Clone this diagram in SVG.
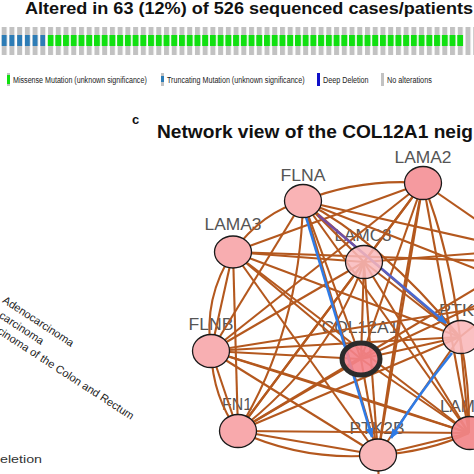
<svg xmlns="http://www.w3.org/2000/svg" width="474" height="474" viewBox="0 0 474 474">
<style>
.t{font-family:"Liberation Sans",Arial,sans-serif}
.b{font-weight:bold;fill:#111}
.lg{font-size:9.5px;fill:#222}
.rot{font-size:11px;fill:#222}
.lab{font-size:16px;fill:#555}
.e{fill:none;stroke:#b4581e;stroke-width:2.1}
.n{stroke:#1a1a1a;stroke-width:1.3}
</style>
<defs>
<pattern id="pg" x="1.7" y="0" width="7.73" height="474" patternUnits="userSpaceOnUse"><rect x="0" y="0" width="5" height="474" fill="#c2c2c2"/></pattern>
<pattern id="pgr" x="1.2" y="0" width="7.73" height="474" patternUnits="userSpaceOnUse"><rect x="0" y="0" width="6" height="474" fill="#10e010"/></pattern>
<pattern id="pbl" x="1.7" y="0" width="7.73" height="474" patternUnits="userSpaceOnUse"><rect x="0" y="0" width="5" height="474" fill="#2c7cb6"/></pattern>
<marker id="ab" markerWidth="10" markerHeight="8" refX="9" refY="4" orient="auto" markerUnits="userSpaceOnUse"><path d="M0,0 L10,4 L0,8 Z" fill="#2f7be6"/></marker>
<linearGradient id="pur" gradientUnits="userSpaceOnUse" x1="318" y1="215" x2="446" y2="323"><stop offset="0" stop-color="#7a4896"/><stop offset="0.5" stop-color="#5a5cc0"/><stop offset="1" stop-color="#3a74e0"/></linearGradient>
</defs>

<!-- oncoprint -->
<g id="title"><text class="t b" x="25" y="13.5" font-size="17" textLength="448" lengthAdjust="spacingAndGlyphs">Altered in 63 (12%) of 526 sequenced cases/patients</text></g>
<g id="oncoprint">
<rect x="0" y="27" width="474" height="28" fill="url(#pg)"/>
<rect x="0" y="35" width="45.4" height="11" fill="url(#pbl)"/>
<rect x="47.5" y="35" width="415.8" height="11" fill="url(#pgr)"/>
</g>
<g id="legend">
<rect x="7" y="73" width="3" height="13" fill="#c2c2c2"/><rect x="7" y="75" width="3" height="9" fill="#10e010"/>
<text class="t lg" transform="translate(13,83) scale(0.76,1)" textLength="176" lengthAdjust="spacingAndGlyphs">Missense Mutation (unknown significance)</text>
<rect x="161" y="73" width="3" height="13" fill="#c2c2c2"/><rect x="161" y="76" width="3" height="6" fill="#2c7cb6"/>
<text class="t lg" transform="translate(167,83) scale(0.76,1)" textLength="181" lengthAdjust="spacingAndGlyphs">Truncating Mutation (unknown significance)</text>
<rect x="317" y="73" width="3" height="13" fill="#1010c8"/>
<text class="t lg" transform="translate(323,83) scale(0.76,1)" textLength="60" lengthAdjust="spacingAndGlyphs">Deep Deletion</text>
<rect x="381" y="73" width="3" height="13" fill="#c2c2c2"/>
<text class="t lg" transform="translate(387,83) scale(0.76,1)" textLength="59" lengthAdjust="spacingAndGlyphs">No alterations</text>
</g>
<g id="clinical">
<text class="t rot" text-anchor="end" transform="translate(71,347) rotate(33)">Adenocarcinoma</text>
<text class="t rot" text-anchor="end" transform="translate(41,345) rotate(33)">carcinoma</text>
<text class="t rot" text-anchor="end" transform="translate(131,420) rotate(33)">cinoma of the Colon and Rectum</text>
<text class="t" x="0" y="463" font-size="10" fill="#333" textLength="42" lengthAdjust="spacingAndGlyphs">eletion</text>
</g>

<!-- network -->
<g id="panel-c">
<text class="t b" x="132" y="124" font-size="13">c</text>
<text class="t b" x="157" y="138" font-size="18" textLength="316" lengthAdjust="spacingAndGlyphs">Network view of the COL12A1 neig</text>
</g>

<g id="labels" class="t lab" text-anchor="middle">
<text x="303" y="181" textLength="45" lengthAdjust="spacingAndGlyphs">FLNA</text>
<text x="423" y="163" textLength="57" lengthAdjust="spacingAndGlyphs">LAMA2</text>
<text x="233" y="230" textLength="57" lengthAdjust="spacingAndGlyphs">LAMA3</text>
<text x="363" y="241" textLength="57" lengthAdjust="spacingAndGlyphs">LAMC3</text>
<text x="211" y="330" textLength="45" lengthAdjust="spacingAndGlyphs">FLNB</text>
<text x="360" y="333" textLength="77" lengthAdjust="spacingAndGlyphs">COL12A1</text>
<text x="237" y="410" textLength="30" lengthAdjust="spacingAndGlyphs">FN1</text>
<text x="377" y="434" textLength="55" lengthAdjust="spacingAndGlyphs">PTK2B</text>
<text x="439" y="316" text-anchor="start" textLength="35" lengthAdjust="spacingAndGlyphs">PTK</text>
<text x="440" y="412" text-anchor="start" textLength="35" lengthAdjust="spacingAndGlyphs">LAM</text>
</g>

<g id="connectors">
<!-- perimeter curves -->
<path class="e" d="M303,201 Q360,178 423,183"/>
<path class="e" d="M303,201 Q262,212 233,252"/>
<path class="e" d="M233,252 Q203,298 211,351"/>
<path class="e" d="M211,351 Q213,398 238,431"/>
<path class="e" d="M238,431 Q305,462 378,455"/>
<path class="e" d="M378,455 Q428,452 469,433"/>
<path class="e" d="M460,337 Q470,385 469,433"/>
<path class="e" d="M423,183 Q450,250 460,337"/>
<!-- FLNA -->
<path class="e" d="M303,201 L364,262"/>
<path class="e" d="M303,201 L211,351"/>
<path class="e" d="M303,201 Q300,330 238,431"/>
<path class="e" d="M303,201 L361,359"/>
<path class="e" d="M303,201 L378,455"/>
<path class="e" d="M303,201 L460,337"/>
<path class="e" d="M303,201 Q380,240 460,337"/>
<path class="e" d="M303,201 L469,433"/>
<path class="e" d="M303,201 L520,250"/>
<path class="e" d="M303,201 L530,290"/>
<!-- LAMA2 -->
<path class="e" d="M423,183 L233,252"/>
<path class="e" d="M423,183 L364,262"/>
<path class="e" d="M423,183 L211,351"/>
<path class="e" d="M423,183 L361,359"/>
<path class="e" d="M423,183 L238,431"/>
<path class="e" d="M423,183 L378,455"/>
<path class="e" d="M423,183 L469,433"/>
<path class="e" d="M423,183 L520,250"/>
<path class="e" d="M423,183 Q400,300 378,455"/>
<!-- LAMA3 -->
<path class="e" d="M233,252 L364,262"/>
<path class="e" d="M233,252 L238,431"/>
<path class="e" d="M233,252 L361,359"/>
<path class="e" d="M233,252 L378,455"/>
<path class="e" d="M233,252 L460,337"/>
<path class="e" d="M233,252 L469,433"/>
<path class="e" d="M233,252 L520,262"/>
<path class="e" d="M233,252 L211,351"/>
<!-- LAMC3 -->
<path class="e" d="M364,262 L211,351"/>
<path class="e" d="M364,262 L238,431"/>
<path class="e" d="M364,262 L361,359"/>
<path class="e" d="M364,262 L378,455"/>
<path class="e" d="M364,262 L460,337"/>
<path class="e" d="M364,262 L469,433"/>
<path class="e" d="M364,262 L520,250"/>
<path class="e" d="M364,262 Q330,360 238,431"/>
<!-- FLNB -->
<path class="e" d="M211,351 L238,431"/>
<path class="e" d="M211,351 L361,359"/>
<path class="e" d="M211,351 L378,455"/>
<path class="e" d="M211,351 L460,337"/>
<path class="e" d="M211,351 L469,433"/>
<path class="e" d="M211,351 Q340,390 469,433"/>
<path class="e" d="M211,351 L530,300"/>
<!-- COL12A1 -->
<path class="e" d="M361,359 L238,431"/>
<path class="e" d="M361,359 L378,455"/>
<path class="e" d="M361,359 L460,337"/>
<path class="e" d="M361,359 L469,433"/>
<path class="e" d="M361,359 L530,280"/>
<!-- FN1 -->
<path class="e" d="M238,431 L378,455"/>
<path class="e" d="M238,431 L460,337"/>
<path class="e" d="M238,431 L469,433"/>
<path class="e" d="M238,431 L520,262"/>
<!-- PTK2B / PTK2 -->
<path class="e" d="M378,455 L460,337"/>
<path class="e" d="M378,455 L469,433"/>
<path class="e" d="M378,455 L380,530"/>
<path class="e" d="M460,337 L469,433"/>
<path class="e" d="M460,337 L530,280"/>
<!-- directed -->
<path d="M306,217 L372,437" fill="none" stroke="#2f7be6" stroke-width="2.6" marker-end="url(#ab)"/>
<path d="M452,353 Q418,395 391,438" fill="none" stroke="#2f7be6" stroke-width="2.6" marker-end="url(#ab)"/>
<path d="M318,215 L446,323" fill="none" stroke="url(#pur)" stroke-width="2.6" marker-end="url(#ab)"/>
</g>

<g id="n-FLNA"><ellipse class="n" cx="303" cy="201" rx="18.5" ry="16.5" fill="#f9b3b5"/></g>
<g id="n-LAMA2"><ellipse class="n" cx="423" cy="183" rx="18.5" ry="16.5" fill="#f59a9f"/></g>
<g id="n-LAMA3"><ellipse class="n" cx="233" cy="252" rx="18.5" ry="16" fill="#f8adb0"/></g>
<g id="n-LAMC3"><ellipse class="n" cx="364" cy="262" rx="18.5" ry="16.5" fill="#f9b9bb" fill-opacity="0.85"/></g>
<g id="n-FLNB"><ellipse class="n" cx="211" cy="351" rx="18.5" ry="16.5" fill="#f8afb2"/></g>
<g id="n-COL12A1"><ellipse cx="361" cy="359" rx="19" ry="16" fill="#f4838b" fill-opacity="0.9" stroke="#2b2b2b" stroke-width="5"/></g>
<g id="n-FN1"><ellipse class="n" cx="238" cy="431" rx="18.5" ry="16.5" fill="#f8a9ac"/></g>
<g id="n-PTK2B"><ellipse class="n" cx="378" cy="455" rx="18.5" ry="16" fill="#f9b7b9"/></g>
<g id="n-PTK2"><ellipse class="n" cx="461" cy="337" rx="18.5" ry="16.5" fill="#f9b7b9" fill-opacity="0.88"/></g>
<g id="n-LAM"><ellipse class="n" cx="470" cy="433" rx="18.5" ry="16.5" fill="#f28689" fill-opacity="0.92"/></g>
</svg>
